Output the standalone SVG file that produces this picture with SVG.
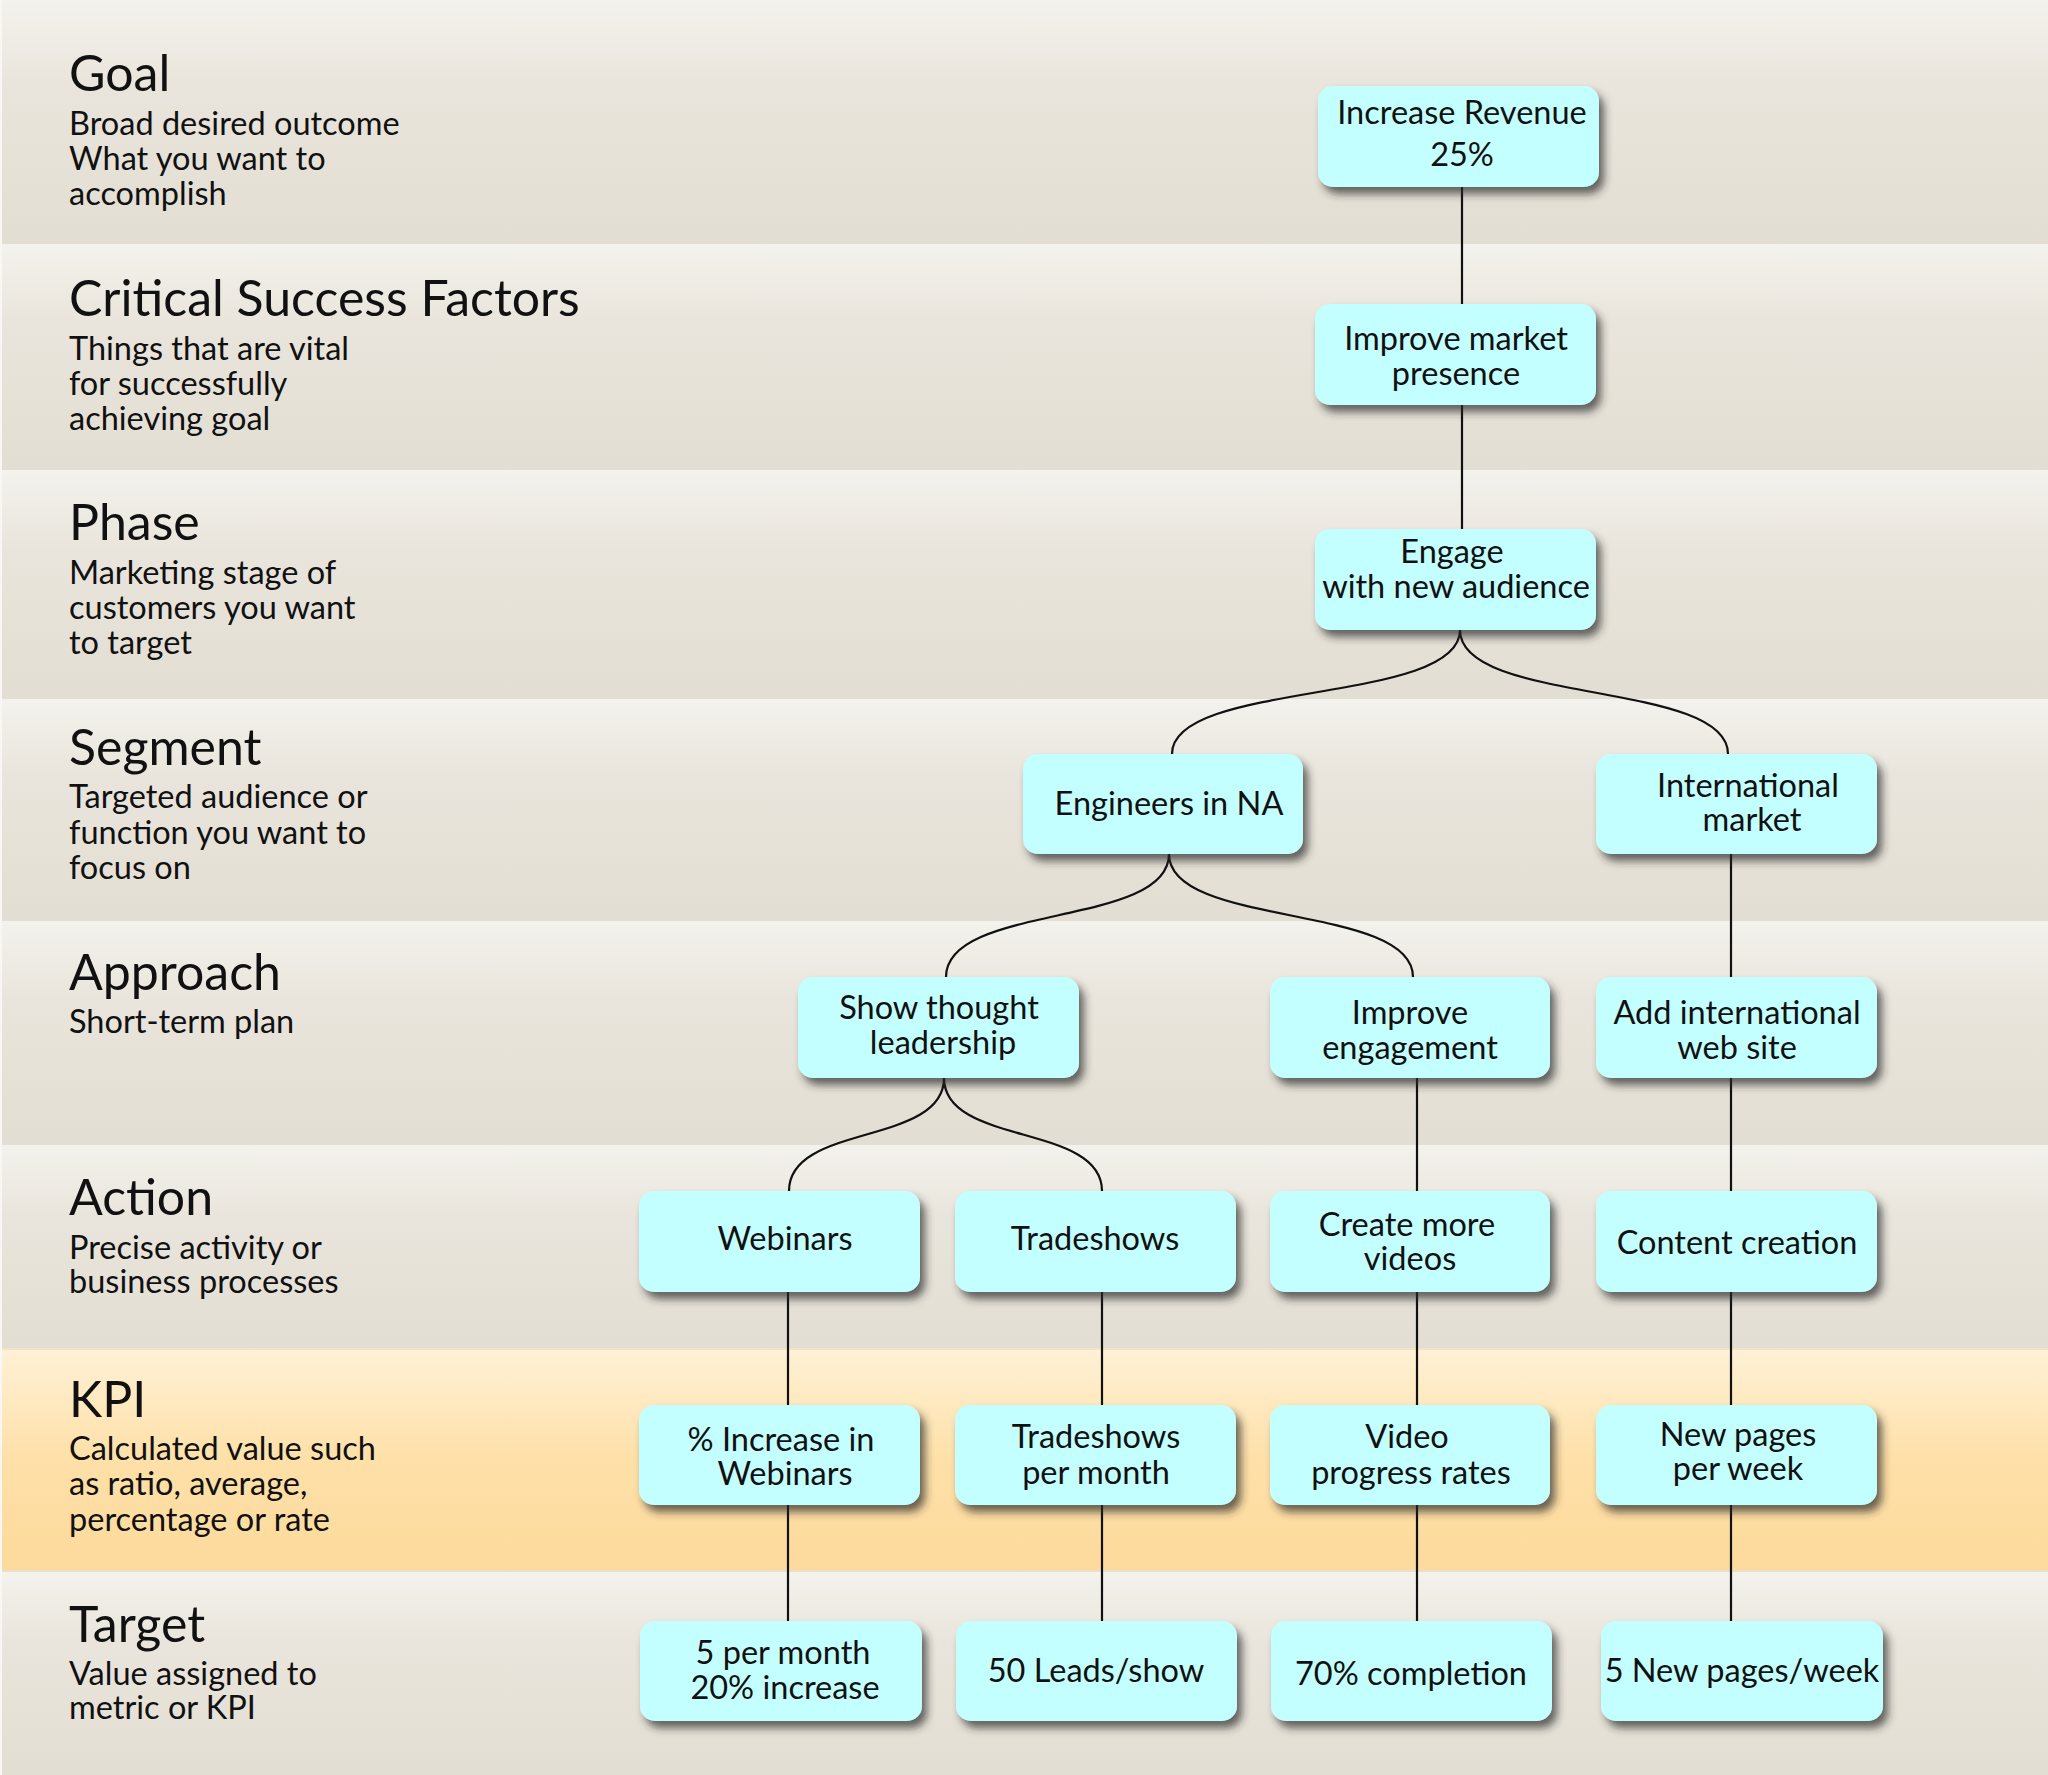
<svg xmlns="http://www.w3.org/2000/svg" width="2048" height="1775" viewBox="0 0 2048 1775">
<defs>
<linearGradient id="band" x1="0" y1="0" x2="0" y2="1">
<stop offset="0" stop-color="#F4F2ED"/>
<stop offset="0.35" stop-color="#E9E5DC"/>
<stop offset="1" stop-color="#E3DED3"/>
</linearGradient>
<linearGradient id="kpi" x1="0" y1="0" x2="0" y2="1">
<stop offset="0" stop-color="#FFF1D6"/>
<stop offset="0.5" stop-color="#FEE0A8"/>
<stop offset="1" stop-color="#FDDA9C"/>
</linearGradient>
<filter id="sh" x="-10%" y="-10%" width="130%" height="140%">
<feDropShadow dx="5" dy="7" stdDeviation="4" flood-color="#2a2a2a" flood-opacity="0.7"/>
</filter>
</defs>
<style>
.nb{fill:#C4FFFF;filter:url(#sh);}
.nt{font-family:Lato,"Open Sans","Liberation Sans",sans-serif;font-size:32.5px;fill:#111;text-anchor:middle;}
.lt{font-family:Lato,"Open Sans","Liberation Sans",sans-serif;font-size:50px;fill:#111;}
.ld{font-family:Lato,"Open Sans","Liberation Sans",sans-serif;font-size:32.5px;fill:#111;}
.cn{fill:none;stroke:#111;stroke-width:2.2;}
</style>
<g id="background">
<rect x="0" y="0" width="2048" height="244" fill="url(#band)"/>
<rect x="0" y="244" width="2048" height="226" fill="url(#band)"/>
<rect x="0" y="470" width="2048" height="229" fill="url(#band)"/>
<rect x="0" y="699" width="2048" height="222" fill="url(#band)"/>
<rect x="0" y="921" width="2048" height="224" fill="url(#band)"/>
<rect x="0" y="1145" width="2048" height="203" fill="url(#band)"/>
<rect x="0" y="1348" width="2048" height="224" fill="url(#kpi)"/>
<rect x="0" y="1572" width="2048" height="203" fill="url(#band)"/>
<line x1="0" y1="1349" x2="2048" y2="1349" stroke="#EFE6C8" stroke-width="2"/>
<line x1="0" y1="1571" x2="2048" y2="1571" stroke="#E8E0C8" stroke-width="2"/>
<line x1="1" y1="0" x2="1" y2="1775" stroke="#F8F7F3" stroke-width="2"/>
</g>
<g id="labels">
<text class="lt" x="69" y="91">Goal</text>
<text class="ld" x="69" y="135">Broad desired outcome</text>
<text class="ld" x="69" y="170">What you want to</text>
<text class="ld" x="69" y="205">accomplish</text>
<text class="lt" x="69" y="316">Critical Success Factors</text>
<text class="ld" x="69" y="360">Things that are vital</text>
<text class="ld" x="69" y="395">for successfully</text>
<text class="ld" x="69" y="430">achieving goal</text>
<text class="lt" x="69" y="540">Phase</text>
<text class="ld" x="69" y="584">Marketing stage of</text>
<text class="ld" x="69" y="619">customers you want</text>
<text class="ld" x="69" y="654">to target</text>
<text class="lt" x="69" y="765">Segment</text>
<text class="ld" x="69" y="808">Targeted audience or</text>
<text class="ld" x="69" y="844">function you want to</text>
<text class="ld" x="69" y="879">focus on</text>
<text class="lt" x="69" y="990">Approach</text>
<text class="ld" x="69" y="1033">Short-term plan</text>
<text class="lt" x="69" y="1215">Action</text>
<text class="ld" x="69" y="1259">Precise activity or</text>
<text class="ld" x="69" y="1293">business processes</text>
<text class="lt" x="69" y="1417">KPI</text>
<text class="ld" x="69" y="1460">Calculated value such</text>
<text class="ld" x="69" y="1495">as ratio, average,</text>
<text class="ld" x="69" y="1531">percentage or rate</text>
<text class="lt" x="69" y="1642">Target</text>
<text class="ld" x="69" y="1685">Value assigned to</text>
<text class="ld" x="69" y="1719">metric or KPI</text>
</g>
<g id="connectors">
<line class="cn" x1="1462" y1="187" x2="1462" y2="304"/>
<line class="cn" x1="1462" y1="405" x2="1462" y2="529"/>
<path class="cn" d="M1460 630 C1460 705 1172 680 1172 754"/>
<path class="cn" d="M1460 630 C1460 705 1728 680 1728 754"/>
<line class="cn" x1="1731" y1="854" x2="1731" y2="977"/>
<path class="cn" d="M1169 854 C1169 928 946 903 946 977"/>
<path class="cn" d="M1169 854 C1169 928 1413 903 1413 977"/>
<line class="cn" x1="1417" y1="1078" x2="1417" y2="1191"/>
<line class="cn" x1="1731" y1="1078" x2="1731" y2="1191"/>
<path class="cn" d="M944 1078 C944 1146 789 1123 789 1191"/>
<path class="cn" d="M944 1078 C944 1146 1102 1123 1102 1191"/>
<line class="cn" x1="788" y1="1292" x2="788" y2="1621"/>
<line class="cn" x1="1102" y1="1292" x2="1102" y2="1621"/>
<line class="cn" x1="1417" y1="1292" x2="1417" y2="1621"/>
<line class="cn" x1="1731" y1="1292" x2="1731" y2="1621"/>
</g>
<g id="n-goal"><rect class="nb" x="1318" y="86" width="281" height="101" rx="15"/><text class="nt" x="1462" y="124">Increase Revenue</text><text class="nt" x="1462" y="166">25%</text></g>
<g id="n-csf"><rect class="nb" x="1315" y="304" width="281" height="101" rx="15"/><text class="nt" x="1456" y="350">Improve market</text><text class="nt" x="1456" y="385">presence</text></g>
<g id="n-phase"><rect class="nb" x="1315" y="529" width="281" height="101" rx="15"/><text class="nt" x="1452" y="563">Engage</text><text class="nt" x="1456" y="598">with new audience</text></g>
<g id="n-eng"><rect class="nb" x="1023" y="754" width="280" height="100" rx="15"/><text class="nt" x="1169" y="815">Engineers in NA</text></g>
<g id="n-intl"><rect class="nb" x="1596" y="754" width="281" height="100" rx="15"/><text class="nt" x="1748" y="797">International</text><text class="nt" x="1752" y="831">market</text></g>
<g id="n-thought"><rect class="nb" x="798" y="977" width="281" height="101" rx="15"/><text class="nt" x="939" y="1019">Show thought</text><text class="nt" x="943" y="1054">leadership</text></g>
<g id="n-engage"><rect class="nb" x="1270" y="977" width="280" height="101" rx="15"/><text class="nt" x="1410" y="1024">Improve</text><text class="nt" x="1410" y="1059">engagement</text></g>
<g id="n-website"><rect class="nb" x="1596" y="977" width="281" height="101" rx="15"/><text class="nt" x="1737" y="1024">Add international</text><text class="nt" x="1737" y="1059">web site</text></g>
<g id="n-webinars"><rect class="nb" x="639" y="1191" width="281" height="101" rx="15"/><text class="nt" x="785" y="1250">Webinars</text></g>
<g id="n-tradeshows"><rect class="nb" x="955" y="1191" width="281" height="101" rx="15"/><text class="nt" x="1095" y="1250">Tradeshows</text></g>
<g id="n-videos"><rect class="nb" x="1270" y="1191" width="280" height="101" rx="15"/><text class="nt" x="1407" y="1236">Create more</text><text class="nt" x="1410" y="1270">videos</text></g>
<g id="n-content"><rect class="nb" x="1596" y="1191" width="281" height="101" rx="15"/><text class="nt" x="1737" y="1254">Content creation</text></g>
<g id="n-kpi1"><rect class="nb" x="639" y="1405" width="281" height="100" rx="15"/><text class="nt" x="781" y="1451">% Increase in</text><text class="nt" x="785" y="1485">Webinars</text></g>
<g id="n-kpi2"><rect class="nb" x="955" y="1405" width="281" height="100" rx="15"/><text class="nt" x="1096" y="1448">Tradeshows</text><text class="nt" x="1096" y="1484">per month</text></g>
<g id="n-kpi3"><rect class="nb" x="1270" y="1405" width="280" height="100" rx="15"/><text class="nt" x="1407" y="1448">Video</text><text class="nt" x="1411" y="1484">progress rates</text></g>
<g id="n-kpi4"><rect class="nb" x="1596" y="1405" width="281" height="100" rx="15"/><text class="nt" x="1738" y="1446">New pages</text><text class="nt" x="1738" y="1480">per week</text></g>
<g id="n-t1"><rect class="nb" x="640" y="1621" width="282" height="100" rx="15"/><text class="nt" x="783" y="1664">5 per month</text><text class="nt" x="785" y="1699">20% increase</text></g>
<g id="n-t2"><rect class="nb" x="956" y="1621" width="281" height="100" rx="15"/><text class="nt" x="1096" y="1682">50 Leads/show</text></g>
<g id="n-t3"><rect class="nb" x="1271" y="1621" width="281" height="100" rx="15"/><text class="nt" x="1411" y="1685">70% completion</text></g>
<g id="n-t4"><rect class="nb" x="1601" y="1621" width="282" height="100" rx="15"/><text class="nt" x="1742" y="1682">5 New pages/week</text></g>
</svg>
